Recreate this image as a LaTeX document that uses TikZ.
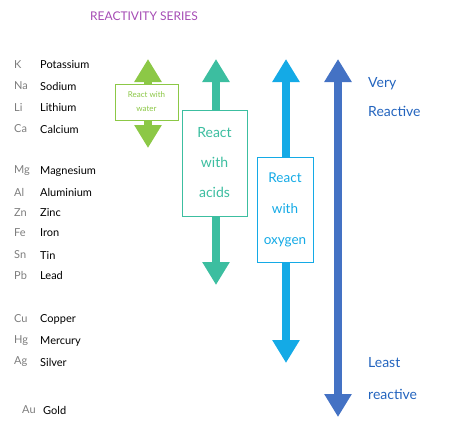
\documentclass[tikz,border=0pt]{standalone}
\usepackage{fontspec}
\setmainfont{Lato}
\usetikzlibrary{arrows.meta}

\definecolor{titlepurple}{RGB}{165,75,180}
\definecolor{symgray}{RGB}{125,125,125}
\definecolor{watergreen}{RGB}{140,200,70}
\definecolor{acidteal}{RGB}{60,190,160}
\definecolor{oxycyan}{RGB}{20,170,230}
\definecolor{seriesblue}{RGB}{68,114,196}
\definecolor{textblue}{RGB}{35,100,190}

\tikzset{
    sym/.style={anchor=west, inner sep=0pt, text=symgray, font=\fontsize{11}{13}\selectfont},
    metal/.style={anchor=west, inner sep=0pt, font=\fontsize{11}{13}\selectfont},
    bigarrow/.style={line width=8pt, {Triangle[width=26pt,length=23pt]}-{Triangle[width=26pt,length=23pt]}},
    reactbox/.style={draw=#1, text=#1, fill=white, line width=0.8pt, align=center, inner sep=0pt}
}

\begin{document}
\begin{tikzpicture}[x=1pt,y=-1pt]
    \useasboundingbox(0,0)rectangle(474,447);

    \node[text=titlepurple, font=\fontsize{12}{14}\selectfont](title)at(144,16){REACTIVITY SERIES};

    % metals, most reactive first
    \node[sym](k)at(14,65){K};   \node[metal](potassium)at(40,65){Potassium};
    \node[sym](na)at(14,86){Na}; \node[metal](sodium)at(40,86){Sodium};
    \node[sym](li)at(14,107){Li}; \node[metal](lithium)at(40,107){Lithium};
    \node[sym](ca)at(14,129){Ca}; \node[metal](calcium)at(40,129){Calcium};

    \node[sym](mg)at(14,171){Mg}; \node[metal](magnesium)at(40,171){Magnesium};
    \node[sym](al)at(14,192){Al}; \node[metal](aluminium)at(40,192){Aluminium};
    \node[sym](zn)at(14,213){Zn}; \node[metal](zinc)at(40,213){Zinc};
    \node[sym](fe)at(14,233){Fe}; \node[metal](iron)at(40,233){Iron};
    \node[sym](sn)at(14,255){Sn}; \node[metal](tin)at(40,255){Tin};
    \node[sym](pb)at(14,275){Pb}; \node[metal](lead)at(40,275){Lead};

    \node[sym](cu)at(14,319){Cu}; \node[metal](copper)at(40,319){Copper};
    \node[sym](hg)at(14,341){Hg}; \node[metal](mercury)at(40,341){Mercury};
    \node[sym](ag)at(14,362){Ag}; \node[metal](silver)at(40,362){Silver};

    \node[sym](au)at(22,410){Au}; \node[metal](gold)at(43,410){Gold};

    % arrow ends
    \coordinate(watertop)at(148,59);  \coordinate(waterbot)at(148,148);
    \coordinate(acidtop)at(216,59);   \coordinate(acidbot)at(216,285);
    \coordinate(oxytop)at(286,59);    \coordinate(oxybot)at(286,363);
    \coordinate(seriestop)at(338,59); \coordinate(seriesbot)at(338,417);

    \draw[bigarrow, watergreen](watertop)--(waterbot);
    \draw[bigarrow, acidteal](acidtop)--(acidbot);
    \draw[bigarrow, oxycyan](oxytop)--(oxybot);
    \draw[bigarrow, seriesblue](seriestop)--(seriesbot);

    \node[reactbox=watergreen, minimum width=63, minimum height=36, font=\fontsize{8}{14}\selectfont](waterbox)at(146.5,102){React with\\water};
    \node[reactbox=acidteal, minimum width=65, minimum height=106, font=\fontsize{14}{30}\selectfont](acidbox)at(214.5,163){React\\with\\acids};
    \node[reactbox=oxycyan, minimum width=56, minimum height=105, font=\fontsize{13.5}{31}\selectfont](oxybox)at(285,209.5){React\\with\\oxygen};

    \node[anchor=west, align=left, inner sep=0pt, text=textblue, font=\fontsize{14}{29}\selectfont](very)at(368,97){Very\\Reactive};
    \node[anchor=west, align=left, inner sep=0pt, text=textblue, font=\fontsize{14}{32}\selectfont](least)at(368,379){Least\\reactive};
\end{tikzpicture}
\end{document}
